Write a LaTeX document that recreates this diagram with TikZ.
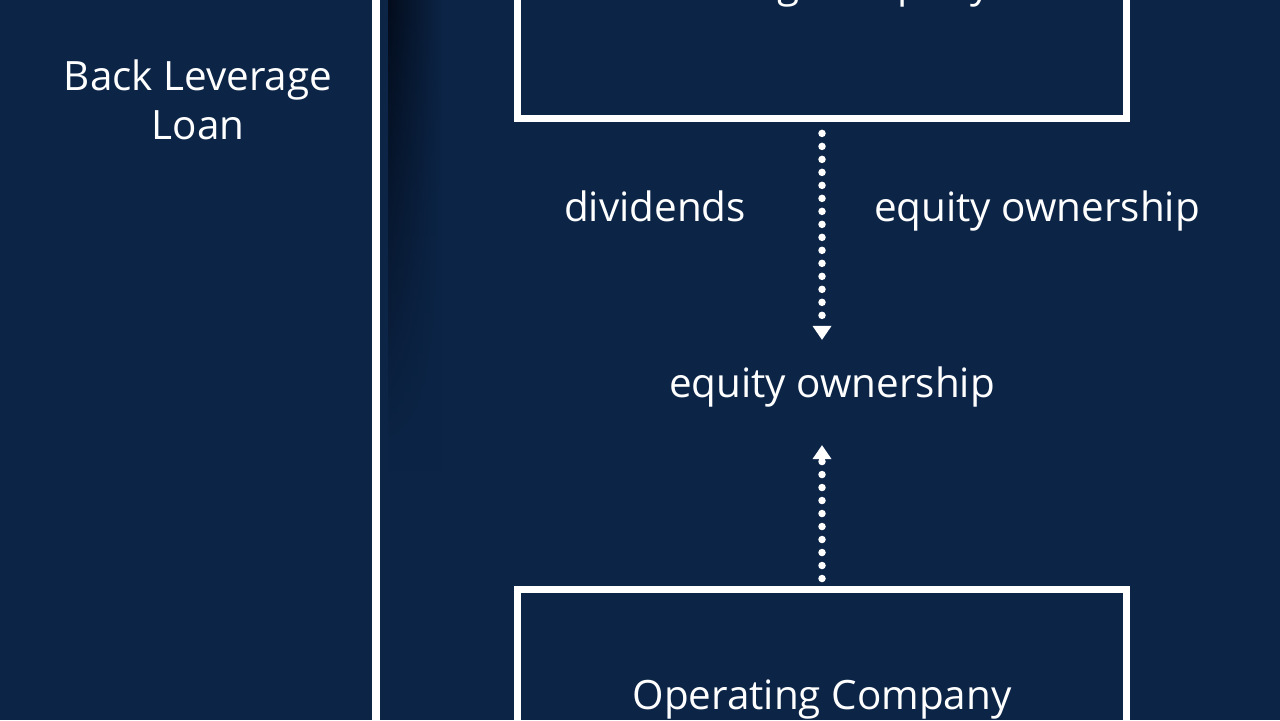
\documentclass[tikz,border=0pt]{standalone}
\usepackage{fontspec}
\setmainfont{Open Sans}
\usetikzlibrary{positioning, arrows.meta, fadings}

\definecolor{navybg}{RGB}{12,37,71}
\definecolor{navyshade}{RGB}{3,12,28}

\tikzfading[name=fadedown, top color=transparent!0, bottom color=transparent!100]

\tikzset{
  company/.style={draw=white, line width=4pt, minimum width=12.2cm, inner sep=0pt},
  flow/.style={white, line width=0.15cm, line cap=round, dash pattern=on 0pt off 0.26cm,
    -{Triangle[width=0.36cm, length=0.28cm]}},
  divider/.style={white, line width=0.16cm},
  tag/.style={inner sep=0pt, anchor=base}
}

\begin{document}
\begin{tikzpicture}[x=0.02cm, y=-0.02cm,
    every node/.style={text=white, font=\fontsize{23}{28}\selectfont}]
  \fill[navybg] (0,0) rectangle (1280,720);
  \useasboundingbox (0,0) rectangle (1280,720);
  \clip (0,0) rectangle (1280,720);

  % shadow beside the divider
  \shade[left color=navyshade, right color=navybg, path fading=fadedown] (388,0) rectangle (445,470);

  \coordinate (divtop) at (376,0);
  \coordinate (divbot) at (376,720);
  \draw[divider] (divtop) -- (divbot);

  \node[align=center] (loan) at (198,100) {Back Leverage\\Loan};

  \node[company, minimum height=5.26cm] (holdco) at (822,-12.6) {Holding Company};
  \node[company, minimum height=4.44cm] (opco) at (822,700) {Operating Company};

  \node[inner sep=0pt] (own) at (832,387) {equity ownership};
  \node[tag] (div) at (655,221) {dividends};
  \node[tag] (ownup) at (1037,221) {equity ownership};

  \draw[flow, shorten <=0.22cm, shorten >=0.53cm] (holdco.south) -- (holdco.south |- own.north);
  \draw[flow, shorten <=0.14cm, shorten >=0.75cm] (opco.north) -- (opco.north |- own.south);
\end{tikzpicture}
\end{document}
